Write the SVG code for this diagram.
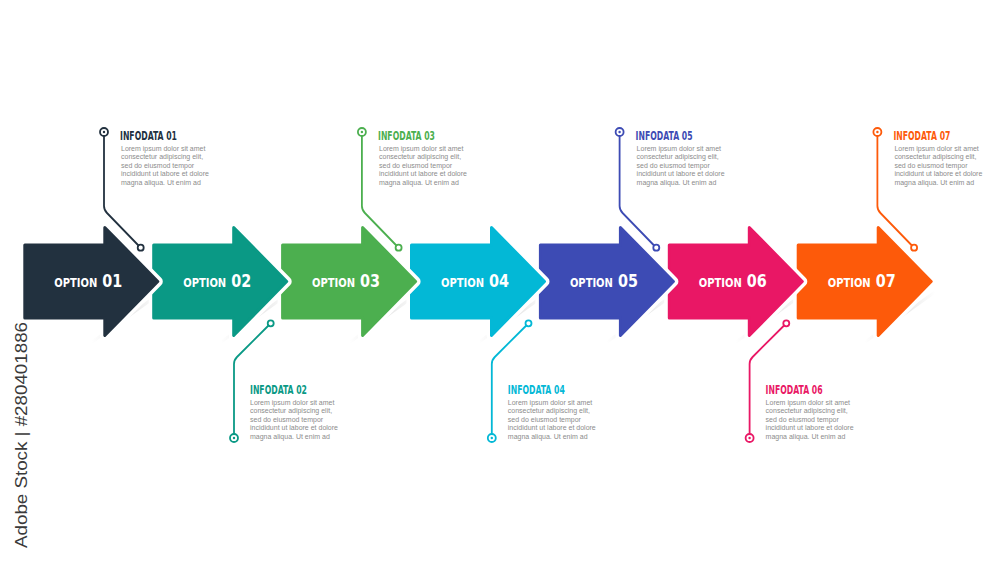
<svg xmlns="http://www.w3.org/2000/svg" width="1000" height="563" viewBox="0 0 1000 563">
<style>
.outline{fill:#fff;stroke:#fff;stroke-width:10;stroke-linejoin:round}
.arr{stroke-width:3;stroke-linejoin:round}
.opt{font-family:"DejaVu Sans Condensed","DejaVu Sans",sans-serif;font-stretch:condensed;font-weight:bold;fill:#fff}
.ttl{font-family:"Liberation Sans Narrow","DejaVu Sans Condensed","Liberation Sans",sans-serif;font-stretch:condensed;font-weight:bold;font-size:12.5px}
.body{font-family:"Liberation Sans",Arial,sans-serif;font-size:7px;fill:#8c8c8c}
.wire{fill:none;stroke-width:1.8;stroke-linejoin:round;stroke-linecap:round}
.ring{fill:#fff;stroke-width:1.8}
.shadow{fill:none;stroke:url(#shg);stroke-width:3;stroke-linecap:round}
</style>
<defs>
<polygon id="arrow" points="1.5,245 81.5,245 81.5,227.5 134.5,281.5 81.5,335.5 81.5,318 1.5,318"/>
<linearGradient id="shg" x1="0" y1="0" x2="1" y2="0">
<stop offset="0" stop-color="#e4e4e4" stop-opacity="0"/>
<stop offset="0.5" stop-color="#e4e4e4" stop-opacity="1"/>
<stop offset="1" stop-color="#e4e4e4" stop-opacity="0"/>
</linearGradient>
</defs>
<rect width="1000" height="563" fill="#fff"/>

<g id="shadows">
<line class="shadow" x1="92" y1="342" x2="162" y2="292"/>
<line class="shadow" x1="221" y1="342" x2="291" y2="292"/>
<line class="shadow" x1="350" y1="342" x2="420" y2="292"/>
<line class="shadow" x1="479" y1="342" x2="549" y2="292"/>
<line class="shadow" x1="607" y1="342" x2="677" y2="292"/>
<line class="shadow" x1="736" y1="342" x2="806" y2="292"/>
<line class="shadow" x1="865" y1="342" x2="935" y2="292"/>
</g>

<g id="arrow7" transform="translate(796.7,0)">
<use href="#arrow" class="outline"/>
<use href="#arrow" class="arr" fill="#fd5a0a" stroke="#fd5a0a"/>
<text class="opt" y="287"><tspan x="31" font-size="13" textLength="43" lengthAdjust="spacingAndGlyphs">OPTION</tspan> <tspan x="79" font-size="17" textLength="20" lengthAdjust="spacingAndGlyphs">07</tspan></text>
</g>
<g id="arrow6" transform="translate(667.8,0)">
<use href="#arrow" class="outline"/>
<use href="#arrow" class="arr" fill="#e91765" stroke="#e91765"/>
<text class="opt" y="287"><tspan x="31" font-size="13" textLength="43" lengthAdjust="spacingAndGlyphs">OPTION</tspan> <tspan x="79" font-size="17" textLength="20" lengthAdjust="spacingAndGlyphs">06</tspan></text>
</g>
<g id="arrow5" transform="translate(538.9,0)">
<use href="#arrow" class="outline"/>
<use href="#arrow" class="arr" fill="#3d4bb4" stroke="#3d4bb4"/>
<text class="opt" y="287"><tspan x="31" font-size="13" textLength="43" lengthAdjust="spacingAndGlyphs">OPTION</tspan> <tspan x="79" font-size="17" textLength="20" lengthAdjust="spacingAndGlyphs">05</tspan></text>
</g>
<g id="arrow4" transform="translate(410,0)">
<use href="#arrow" class="outline"/>
<use href="#arrow" class="arr" fill="#03b8d6" stroke="#03b8d6"/>
<text class="opt" y="287"><tspan x="31" font-size="13" textLength="43" lengthAdjust="spacingAndGlyphs">OPTION</tspan> <tspan x="79" font-size="17" textLength="20" lengthAdjust="spacingAndGlyphs">04</tspan></text>
</g>
<g id="arrow3" transform="translate(281.1,0)">
<use href="#arrow" class="outline"/>
<use href="#arrow" class="arr" fill="#4caf4f" stroke="#4caf4f"/>
<text class="opt" y="287"><tspan x="31" font-size="13" textLength="43" lengthAdjust="spacingAndGlyphs">OPTION</tspan> <tspan x="79" font-size="17" textLength="20" lengthAdjust="spacingAndGlyphs">03</tspan></text>
</g>
<g id="arrow2" transform="translate(152.2,0)">
<use href="#arrow" class="outline"/>
<use href="#arrow" class="arr" fill="#0a9985" stroke="#0a9985"/>
<text class="opt" y="287"><tspan x="31" font-size="13" textLength="43" lengthAdjust="spacingAndGlyphs">OPTION</tspan> <tspan x="79" font-size="17" textLength="20" lengthAdjust="spacingAndGlyphs">02</tspan></text>
</g>
<g id="arrow1" transform="translate(23.3,0)">
<use href="#arrow" class="outline"/>
<use href="#arrow" class="arr" fill="#22313f" stroke="#22313f"/>
<text class="opt" y="287"><tspan x="31" font-size="13" textLength="43" lengthAdjust="spacingAndGlyphs">OPTION</tspan> <tspan x="79" font-size="17" textLength="20" lengthAdjust="spacingAndGlyphs">01</tspan></text>
</g>

<g id="connectors">
<g stroke="#22313f" fill="#22313f">
<path class="wire" d="M104,136 V206 Q104,210 107,213 L138.5,245.5"/>
<circle class="ring" cx="104" cy="132" r="4"/><circle cx="104" cy="132" r="1.2" stroke="none"/>
<circle class="ring" cx="140.7" cy="247.7" r="3"/>
</g>
<g stroke="#0a9985" fill="#0a9985">
<path class="wire" d="M268.5,325.5 L237,357 Q234,360 234,364 V434"/>
<circle class="ring" cx="270.7" cy="323.3" r="3"/>
<circle class="ring" cx="234" cy="438" r="4"/><circle cx="234" cy="438" r="1.2" stroke="none"/>
</g>
<g stroke="#4caf4f" fill="#4caf4f">
<path class="wire" d="M361.9,136 V206 Q361.9,210 364.9,213 L396.4,245.5"/>
<circle class="ring" cx="361.9" cy="132" r="4"/><circle cx="361.9" cy="132" r="1.2" stroke="none"/>
<circle class="ring" cx="398.6" cy="247.7" r="3"/>
</g>
<g stroke="#03b8d6" fill="#03b8d6">
<path class="wire" d="M526.3,325.5 L494.8,357 Q491.8,360 491.8,364 V434"/>
<circle class="ring" cx="528.5" cy="323.3" r="3"/>
<circle class="ring" cx="491.8" cy="438" r="4"/><circle cx="491.8" cy="438" r="1.2" stroke="none"/>
</g>
<g stroke="#3d4bb4" fill="#3d4bb4">
<path class="wire" d="M619.6,136 V206 Q619.6,210 622.6,213 L654.1,245.5"/>
<circle class="ring" cx="619.6" cy="132" r="4"/><circle cx="619.6" cy="132" r="1.2" stroke="none"/>
<circle class="ring" cx="656.3" cy="247.7" r="3"/>
</g>
<g stroke="#e91765" fill="#e91765">
<path class="wire" d="M784.1,325.5 L752.6,357 Q749.6,360 749.6,364 V434"/>
<circle class="ring" cx="786.3" cy="323.3" r="3"/>
<circle class="ring" cx="749.6" cy="438" r="4"/><circle cx="749.6" cy="438" r="1.2" stroke="none"/>
</g>
<g stroke="#fd5a0a" fill="#fd5a0a">
<path class="wire" d="M877.4,136 V206 Q877.4,210 880.4,213 L911.9,245.5"/>
<circle class="ring" cx="877.4" cy="132" r="4"/><circle cx="877.4" cy="132" r="1.2" stroke="none"/>
<circle class="ring" cx="914.1" cy="247.7" r="3"/>
</g>
</g>

<g id="info1">
<text class="ttl" x="120" y="140" fill="#22313f" textLength="57" lengthAdjust="spacingAndGlyphs">INFODATA 01</text>
<text class="body" x="121" y="150.5">Lorem ipsum dolor sit amet</text>
<text class="body" x="121" y="159">consectetur adipiscing elit,</text>
<text class="body" x="121" y="167.5">sed do eiusmod tempor</text>
<text class="body" x="121" y="176">incididunt ut labore et dolore</text>
<text class="body" x="121" y="184.5">magna aliqua. Ut enim ad</text>
</g>
<g id="info2">
<text class="ttl" x="250" y="394" fill="#0a9985" textLength="57" lengthAdjust="spacingAndGlyphs">INFODATA 02</text>
<text class="body" x="250" y="404.7">Lorem ipsum dolor sit amet</text>
<text class="body" x="250" y="413.2">consectetur adipiscing elit,</text>
<text class="body" x="250" y="421.7">sed do eiusmod tempor</text>
<text class="body" x="250" y="430.2">incididunt ut labore et dolore</text>
<text class="body" x="250" y="438.7">magna aliqua. Ut enim ad</text>
</g>
<g id="info3">
<text class="ttl" x="378" y="140" fill="#4caf4f" textLength="57" lengthAdjust="spacingAndGlyphs">INFODATA 03</text>
<text class="body" x="379" y="150.5">Lorem ipsum dolor sit amet</text>
<text class="body" x="379" y="159">consectetur adipiscing elit,</text>
<text class="body" x="379" y="167.5">sed do eiusmod tempor</text>
<text class="body" x="379" y="176">incididunt ut labore et dolore</text>
<text class="body" x="379" y="184.5">magna aliqua. Ut enim ad</text>
</g>
<g id="info4">
<text class="ttl" x="507.8" y="394" fill="#03b8d6" textLength="57" lengthAdjust="spacingAndGlyphs">INFODATA 04</text>
<text class="body" x="507.8" y="404.7">Lorem ipsum dolor sit amet</text>
<text class="body" x="507.8" y="413.2">consectetur adipiscing elit,</text>
<text class="body" x="507.8" y="421.7">sed do eiusmod tempor</text>
<text class="body" x="507.8" y="430.2">incididunt ut labore et dolore</text>
<text class="body" x="507.8" y="438.7">magna aliqua. Ut enim ad</text>
</g>
<g id="info5">
<text class="ttl" x="635.6" y="140" fill="#3d4bb4" textLength="57" lengthAdjust="spacingAndGlyphs">INFODATA 05</text>
<text class="body" x="636.6" y="150.5">Lorem ipsum dolor sit amet</text>
<text class="body" x="636.6" y="159">consectetur adipiscing elit,</text>
<text class="body" x="636.6" y="167.5">sed do eiusmod tempor</text>
<text class="body" x="636.6" y="176">incididunt ut labore et dolore</text>
<text class="body" x="636.6" y="184.5">magna aliqua. Ut enim ad</text>
</g>
<g id="info6">
<text class="ttl" x="765.6" y="394" fill="#e91765" textLength="57" lengthAdjust="spacingAndGlyphs">INFODATA 06</text>
<text class="body" x="765.6" y="404.7">Lorem ipsum dolor sit amet</text>
<text class="body" x="765.6" y="413.2">consectetur adipiscing elit,</text>
<text class="body" x="765.6" y="421.7">sed do eiusmod tempor</text>
<text class="body" x="765.6" y="430.2">incididunt ut labore et dolore</text>
<text class="body" x="765.6" y="438.7">magna aliqua. Ut enim ad</text>
</g>
<g id="info7">
<text class="ttl" x="893.4" y="140" fill="#fd5a0a" textLength="57" lengthAdjust="spacingAndGlyphs">INFODATA 07</text>
<text class="body" x="894.4" y="150.5">Lorem ipsum dolor sit amet</text>
<text class="body" x="894.4" y="159">consectetur adipiscing elit,</text>
<text class="body" x="894.4" y="167.5">sed do eiusmod tempor</text>
<text class="body" x="894.4" y="176">incididunt ut labore et dolore</text>
<text class="body" x="894.4" y="184.5">magna aliqua. Ut enim ad</text>
</g>

<text transform="translate(27,548) rotate(-90)" font-family="Liberation Sans,Arial,sans-serif" font-size="17" fill="#3a3a3a" textLength="226" lengthAdjust="spacingAndGlyphs">Adobe Stock | #280401886</text>
</svg>
